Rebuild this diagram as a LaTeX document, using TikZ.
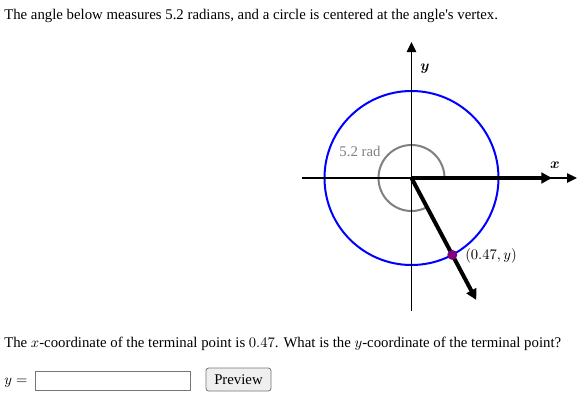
\documentclass[tikz,border=0pt]{standalone}
\usepackage{amsmath}
\usepackage{fontspec}
\newfontfamily\libserif{Liberation Serif}
\newcommand\qfont{\libserif\fontsize{11.1}{13.5}\selectfont}
\usetikzlibrary{arrows.meta}
\definecolor{arcgray}{RGB}{128,128,128}
\definecolor{ptpurple}{RGB}{128,0,128}
\definecolor{boxgray}{RGB}{118,118,118}
\definecolor{btnfill}{RGB}{239,239,239}
\begin{document}
\begin{tikzpicture}[x=0.75pt,y=-0.75pt,
  axisline/.style={line width=1.1pt, -{Triangle[length=7.5pt,width=7pt]}},
  thickray/.style={line width=3pt, -{Triangle[length=8pt,width=8pt]}},
  unitcircle/.style={draw=blue, line width=1.5pt},
  anglearc/.style={draw=arcgray, line width=1.5pt},
  txt/.style={anchor=base west, inner sep=0pt},
  inputbox/.style={draw=boxgray, line width=0.75pt, minimum width=116.25pt, minimum height=14.25pt, inner sep=0pt},
  btn/.style={draw=boxgray, fill=btnfill, line width=0.6pt, rounded corners=2pt, minimum width=48.75pt, minimum height=17.25pt, inner sep=0pt}
]
\useasboundingbox (0,0) rectangle (587,404);
\fill[white] (0,0) rectangle (587,404);

% key points
\coordinate (O) at (411.5,178);
\coordinate (xL) at (302,178);
\coordinate (xR) at (577,178);
\coordinate (yB) at (411.5,311);
\coordinate (yT) at (411.5,42);
\coordinate (xThick) at (552,178);
\coordinate (rayEnd) at (476.3,300);
\coordinate (P) at (452.3,254.9);

% circle
\draw[unitcircle] (O) circle[radius=87];
% angle arc
\draw[anglearc] ([xshift=24.75pt]O) arc[start angle=0, end angle=-297.9, radius=33];

% axes
\draw[axisline] (xL) -- (xR);
\draw[axisline] (yB) -- (yT);
% rays
\draw[thickray] (O) -- (xThick);
\draw[thickray] (O) -- (rayEnd);

% terminal point
\fill[ptpurple] (P) circle[radius=5];

% labels
\node[text=arcgray] (radlbl) at (360,151) {\qfont 5.2 rad};
\node (ylbl) at (425,69) {\qfont $\boldsymbol{y}$};
\node (xlbl) at (555,165) {\qfont $\boldsymbol{x}$};
\node (ptlbl) at (491,256) {\qfont $(0.47, y)$};

% texts
\node[txt] (title) at (4,19) {\qfont The angle below measures 5.2 radians, and a circle is centered at the angle\textquotesingle s vertex.};
\node[txt] (question) at (4,347) {\qfont The $x$-coordinate of the terminal point is $0.47$. What is the $y$-coordinate of the terminal point?};
\node[txt] (ylabel) at (4,384) {\qfont $y =$};
\node[inputbox] (answer) at (112.5,380.5) {};
\node[btn] (preview) at (238.5,379.5) {\qfont Preview};
\end{tikzpicture}
\end{document}
